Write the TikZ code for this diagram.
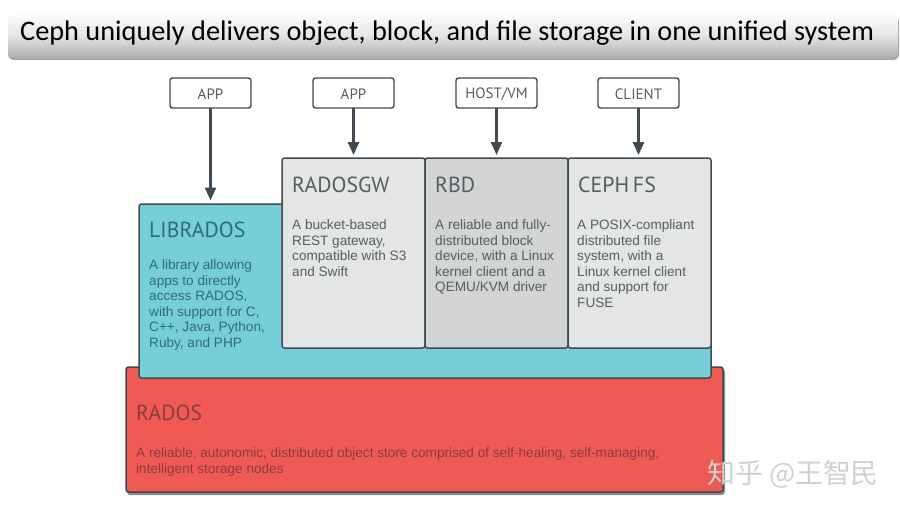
\documentclass[tikz,border=0pt]{standalone}
\usepackage{fontspec}
\usetikzlibrary{arrows.meta}
\setmainfont{Liberation Sans}
\newfontfamily\ttlfont{Carlito}
\newfontfamily\hdfont{PT Sans}
\newfontfamily\cjkfont{Noto Sans CJK SC}
\definecolor{edge}{HTML}{404A50}
\definecolor{teal1}{HTML}{76CFD8}
\definecolor{red1}{HTML}{EF5B54}
\definecolor{light1}{HTML}{E4E6E6}
\definecolor{mid1}{HTML}{D3D4D4}
\definecolor{tealtxt}{HTML}{2F6B78}
\definecolor{redtxt}{HTML}{8A3A42}
\definecolor{graytxt}{HTML}{565C60}
\tikzset{
  box/.style={draw=edge,line width=1.5pt,rounded corners=2.5pt,anchor=north west,inner sep=0pt,outer sep=0pt},
  topbox/.style={box,fill=white,line width=1.4pt,minimum width=81pt,minimum height=30pt},
  toplabel/.style={font=\hdfont\fontsize{15}{17}\selectfont,text=graytxt,yshift=-1pt},
  hd/.style={anchor=base west,inner sep=0pt,font=\hdfont\fontsize{21.8}{24}\selectfont},
  body/.style={anchor=north west,inner sep=0pt,align=left,font=\fontsize{13.6}{15.5}\selectfont},
  conn/.style={draw=edge,line width=2.3pt,-{Triangle[length=13pt,width=11pt]}}
}
\begin{document}
\begin{tikzpicture}[x=1pt,y=-1pt]
\useasboundingbox (0,0) rectangle (900,511);
% banner
\fill[black!35,rounded corners=6pt] (8,16) rectangle (899,60);
\shade[top color=white,bottom color=black!32,middle color=black!10,rounded corners=6pt] (8,12) rectangle (898,58);
\node[anchor=base west,inner sep=0pt,font=\ttlfont\fontsize{28.3}{31}\selectfont] (title) at (20,41) {Ceph uniquely delivers object, block, and file storage in one unified system};
% base boxes
\fill[black!45,rounded corners=3pt] (127,369) rectangle (725,495);
\node[box,fill=red1,minimum width=597pt,minimum height=125pt] (rados) at (126,367) {};
\node[box,fill=teal1,minimum width=572pt,minimum height=174pt] (librados) at (139,204) {};
\node[box,fill=light1,minimum width=143pt,minimum height=190pt] (gw) at (282,158) {};
\node[box,fill=mid1,minimum width=143pt,minimum height=190pt] (rbd) at (425,158) {};
\node[box,fill=light1,minimum width=143pt,minimum height=190pt] (fs) at (568,158) {};
% top boxes
\node[topbox] (app1) at (170,78) {};
\node[topbox] (app2) at (313,78) {};
\node[topbox] (host) at (456,78) {};
\node[topbox] (client) at (598,78) {};
\node[toplabel] at (app1.center) {APP};
\node[toplabel] at (app2.center) {APP};
\node[toplabel] at (host.center) {HOST/VM};
\node[toplabel] at (client.center) {CLIENT};
% connectors
\path[conn,shorten >=3.5pt] (app1.south) -- (app1.south |- librados.north);
\path[conn,shorten >=3pt] (app2.south) -- (app2.south |- gw.north);
\path[conn,shorten >=3pt] (host.south) -- (host.south |- rbd.north);
\path[conn,shorten >=3pt] (client.south) -- (client.south |- fs.north);
% headings
\node[hd,text=tealtxt] (h1) at (149,237) {LIBRADOS};
\node[hd,text=graytxt] (h2) at (292,192) {RADOSGW};
\node[hd,text=graytxt] (h3) at (435,192) {RBD};
\node[hd,text=graytxt] (h4) at (578,192) {CEPH\hspace{-2pt} FS};
\node[hd,text=redtxt] (h5) at (136,420) {RADOS};
% bodies
\node[body,text=tealtxt] (b1) at (149,259.5) {A library allowing\\apps to directly\\access RADOS,\\with support for C,\\C++, Java, Python,\\Ruby, and PHP};
\node[body,text=graytxt] (b2) at (292,219.5) {A bucket-based\\REST gateway,\\compatible with S3\\and Swift};
\node[body,text=graytxt] (b3) at (435,219.5) {A reliable and fully-\\distributed block\\device, with a Linux\\kernel client and a\\QEMU/KVM driver};
\node[body,text=graytxt] (b4) at (577,219.5) {A POSIX-compliant\\distributed file\\system, with a\\Linux kernel client\\and support for\\FUSE};
\node[body,text=redtxt] (b5) at (136,447.5) {A reliable, autonomic, distributed object store comprised of self-healing, self-managing,\\intelligent storage nodes};
% watermark
\node[anchor=west,inner sep=0pt,text=black!18,font=\cjkfont\fontsize{27.8}{30}\selectfont] (wm) at (707,474) {知乎 @王智民};
\end{tikzpicture}
\end{document}
